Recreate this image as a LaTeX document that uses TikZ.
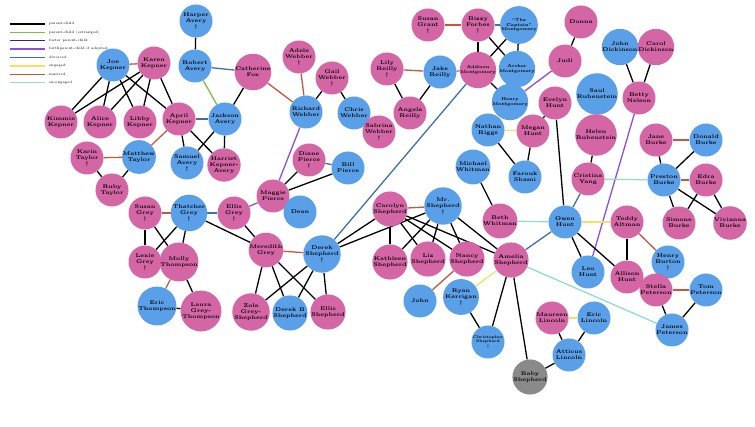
\documentclass[tikz,border=0pt]{standalone}
\usepackage[usenames,dvipsnames]{xcolor}
\usepackage{tikz}
\usetikzlibrary{arrows, backgrounds}

\definecolor{pinkp}{HTML}{D466A6}
\definecolor{bluep}{HTML}{5AA0E8}
\definecolor{grayp}{HTML}{8A8A8A}
\definecolor{estr}{HTML}{7BC043}
\definecolor{foster}{HTML}{3A1E8C}
\definecolor{birth}{HTML}{8A4FE0}
\definecolor{divor}{HTML}{3F6FA8}
\definecolor{engag}{HTML}{F5E060}
\definecolor{marri}{HTML}{C8553D}
\definecolor{exeng}{HTML}{8FDCD0}

\begin{document}
\begin{tikzpicture}[x = 1pt, y = -1pt,
    person/.style = {circle, minimum size = 33pt, inner sep = 0, align = center,
        font = \fontsize{5.4}{6}\selectfont\bfseries},
    f/.style = {person, fill = pinkp},
    m/.style = {person, fill = bluep},
    u/.style = {person, fill = grayp},
    tiny/.style = {font = \fontsize{4.2}{4.8}\selectfont\bfseries},
    pc/.style = {black, line width = 1.3pt},
    est/.style = {estr, line width = 1.3pt},
    fos/.style = {foster, line width = 1.3pt},
    bir/.style = {birth, line width = 1.3pt},
    div/.style = {divor, line width = 1.3pt},
    eng/.style = {engag, line width = 1.3pt},
    mar/.style = {marri, line width = 1.3pt},
    exe/.style = {exeng, line width = 1.3pt}]
    \useasboundingbox (0, 0) rectangle (755, 427);

    %% legend
    \foreach \s/\t [count = \i] in {pc/parent-child, est/parent-child (estranged),
        fos/foster parent-child, bir/birthparent-child if adopted, div/divorced,
        eng/engaged, mar/married, exe/ex-engaged}
        \draw[\s, line width = 1.5pt] (10, 15.5 + 8.4*\i) -- (45, 15.5 + 8.4*\i)
            node[right = 0, black, font = \fontsize{3.5}{4}\selectfont] {\t};

    %% Avery / Kepner / Taylor
    \node[m] (harper) at (196, 21) {Harper\\Avery\\\dag};
    \node[m] (robert) at (195, 66) {Robert\\Avery};
    \node[f] (catherine) at (253, 72) {Catherine\\Fox};
    \node[m] (joe) at (113, 65) {Joe\\Kepner};
    \node[f] (karen) at (154, 63) {Karen\\Kepner};
    \node[f] (kimmie) at (61, 122) {Kimmie\\Kepner};
    \node[f] (alice) at (100, 122) {Alice\\Kepner};
    \node[f] (libby) at (140, 122) {Libby\\Kepner};
    \node[f] (april) at (179, 119) {April\\Kepner};
    \node[m] (jackson) at (225, 119) {Jackson\\Avery};
    \node[f] (karin) at (87, 158) {Karin\\Taylor\\\dag};
    \node[m] (matthew) at (139, 157) {Matthew\\Taylor};
    \node[m] (samuel) at (187, 163) {Samuel\\Avery\\\dag};
    \node[f] (harriet) at (224, 165) {Harriet\\Kepner-\\Avery};
    \node[f] (ruby) at (112, 190) {Ruby\\Taylor};

    %% Webber / Pierce
    \node[f] (adele) at (299, 57) {Adele\\Webber\\\dag};
    \node[f] (gail) at (332, 78) {Gail\\Webber\\\dag};
    \node[m] (richard) at (306, 112) {Richard\\Webber};
    \node[m] (chris) at (354, 113) {Chris\\Webber};
    \node[f] (sabrina) at (379, 132) {Sabrina\\Webber\\\dag};
    \node[f] (diane) at (309, 160) {Diane\\Pierce\\\dag};
    \node[m] (bill) at (348, 168) {Bill\\Pierce};
    \node[f] (maggie) at (273, 196) {Maggie\\Pierce};
    \node[m] (dean) at (300, 212) {Dean};

    %% Grey / Thompson
    \node[f] (susan) at (145, 213) {Susan\\Grey\\\dag};
    \node[m] (thatcher) at (189, 213) {Thatcher\\Grey\\\dag};
    \node[f] (ellis) at (234, 213) {Ellis\\Grey\\\dag};
    \node[f] (lexie) at (145, 262) {Lexie\\Grey\\\dag};
    \node[f] (molly) at (179, 262) {Molly\\Thompson};
    \node[m] (eric) at (157, 306) {Eric\\Thompson};
    \node[f] (laura) at (201, 311) {Laura\\Grey-\\Thompson};
    \node[f] (meredith) at (266, 250) {Meredith\\Grey};
    \node[m] (derek) at (322, 254) {Derek\\Shepherd\\\dag};
    \node[f] (zola) at (251, 312) {Zola\\Grey-\\Shepherd};
    \node[m] (derekb) at (290, 313) {Derek B\\Shepherd};
    \node[f] (ellisS) at (328, 312) {Ellis\\Shepherd};

    %% Montgomery / Reilly
    \node[f] (susang) at (428, 25) {Susan\\Grant\\\dag};
    \node[f] (bizzy) at (478, 25) {Bizzy\\Forbes\\\dag};
    \node[m, tiny] (captain) at (519, 25) {``The\\Captain''\\Montgomery};
    \node[f] (lily) at (387, 69) {Lily\\Reilly\\\dag};
    \node[m] (jake) at (440, 72) {Jake\\Reilly};
    \node[f, tiny] (addison) at (478, 70) {Addison\\Montgomery};
    \node[m, tiny] (archer) at (517, 69) {Archer\\Montgomery};
    \node[f] (angela) at (410, 113) {Angela\\Reilly};
    \node[m, tiny] (henry) at (510, 102) {Henry\\Montgomery};
    \node[f] (judi) at (565, 61) {Judi};
    \node[f] (donna) at (581, 22) {Donna};

    %% Dickinson / Rubenstein / Hunt / Burke
    \node[m] (johnd) at (620, 47) {John\\Dickinson};
    \node[f] (carol) at (656, 47) {Carol\\Dickinson};
    \node[f] (betty) at (639, 98) {Betty\\Nelson};
    \node[m] (saul) at (597, 94) {Saul\\Rubenstein};
    \node[f] (helen) at (596, 135) {Helen\\Rubenstein};
    \node[f] (evelyn) at (555, 103) {Evelyn\\Hunt};
    \node[m] (nathan) at (488, 130) {Nathan\\Riggs};
    \node[f] (megan) at (533, 131) {Megan\\Hunt};
    \node[m] (farouk) at (525, 177) {Farouk\\Shami};
    \node[m] (michael) at (473, 167) {Michael\\Whitman};
    \node[f] (cristina) at (588, 179) {Cristina\\Yang};
    \node[f] (jane) at (656, 140) {Jane\\Burke};
    \node[m] (donald) at (706, 140) {Donald\\Burke};
    \node[m] (preston) at (664, 180) {Preston\\Burke};
    \node[f] (edra) at (706, 180) {Edra\\Burke};
    \node[f] (simone) at (679, 223) {Simone\\Burke};
    \node[f] (vivianna) at (730, 223) {Vivianna\\Burke};

    %% Shepherd / Hunt / Lincoln / Peterson
    \node[f] (carolyn) at (390, 209) {Carolyn\\Shepherd};
    \node[m] (mrshep) at (443, 206) {Mr.\\Shepherd\\\dag};
    \node[f] (beth) at (500, 221) {Beth\\Whitman};
    \node[m] (owen) at (565, 222) {Owen\\Hunt};
    \node[f] (teddy) at (627, 222) {Teddy\\Altman};
    \node[f] (kathleen) at (390, 262) {Kathleen\\Shepherd};
    \node[f] (liz) at (428, 259) {Liz\\Shepherd};
    \node[f] (nancy) at (467, 259) {Nancy\\Shepherd};
    \node[f] (amelia) at (511, 260) {Amelia\\Shepherd};
    \node[m] (leo) at (588, 272) {Leo\\Hunt};
    \node[f] (allison) at (627, 277) {Allison\\Hunt};
    \node[m] (burton) at (668, 262) {Henry\\Burton\\\dag};
    \node[f] (stella) at (656, 290) {Stella\\Peterson};
    \node[m] (tom) at (706, 290) {Tom\\Peterson};
    \node[m] (james) at (672, 330) {James\\Peterson};
    \node[m] (john) at (420, 301) {John};
    \node[m] (ryan) at (461, 297) {Ryan\\Kerrigan\\\dag};
    \node[m, font = \fontsize{3.8}{4.4}\selectfont\bfseries] (christopher) at (488, 342) {Christopher\\Shepherd\\\dag};
    \node[f] (maureen) at (552, 318) {Maureen\\Lincoln};
    \node[m] (ericl) at (594, 318) {Eric\\Lincoln};
    \node[m] (atticus) at (569, 355) {Atticus\\Lincoln};
    \node[u] (baby) at (530, 377) {Baby\\Shepherd};

    %% connectors
    \begin{scope}[on background layer]
    \foreach \a/\b/\s in {
        harper/robert/pc, robert/jackson/est, catherine/jackson/pc, robert/catherine/div,
        joe/karen/mar, joe/kimmie/pc, joe/alice/pc, joe/libby/pc, joe/april/pc,
        karen/kimmie/pc, karen/alice/pc, karen/libby/pc, karen/april/pc,
        april/jackson/div, april/matthew/mar, april/samuel/pc, april/harriet/pc,
        jackson/samuel/pc, jackson/harriet/pc, karin/matthew/mar, karin/ruby/pc,
        matthew/ruby/pc, catherine/richard/mar, adele/richard/mar, gail/richard/pc,
        gail/chris/pc, chris/sabrina/pc, richard/maggie/bir, diane/maggie/pc,
        bill/maggie/pc, diane/bill/div, maggie/dean/exe, ellis/maggie/bir,
        susan/thatcher/mar, thatcher/ellis/div, susan/lexie/pc, susan/molly/pc,
        thatcher/lexie/pc, thatcher/molly/pc, thatcher/meredith/pc, ellis/meredith/pc,
        molly/eric/mar, molly/laura/pc, eric/laura/pc, meredith/derek/mar,
        meredith/zola/pc, meredith/derekb/pc, meredith/ellisS/pc,
        derek/zola/pc, derek/derekb/pc, derek/ellisS/pc, derek/addison/div,
        carolyn/derek/pc, mrshep/derek/pc, carolyn/mrshep/mar,
        carolyn/kathleen/pc, carolyn/liz/pc, carolyn/nancy/pc, carolyn/amelia/pc,
        mrshep/kathleen/pc, mrshep/liz/pc, mrshep/nancy/pc, mrshep/amelia/pc,
        nancy/john/mar, amelia/ryan/eng, amelia/christopher/pc, ryan/christopher/pc,
        amelia/baby/pc, atticus/baby/pc, maureen/ericl/eng, maureen/atticus/pc,
        ericl/atticus/pc, amelia/owen/div, amelia/james/exe, stella/tom/mar,
        stella/james/pc, tom/james/pc, susang/bizzy/mar, bizzy/captain/div,
        bizzy/addison/pc, bizzy/archer/pc, captain/addison/pc, captain/archer/pc,
        lily/jake/mar, jake/addison/mar, lily/angela/pc, jake/angela/pc,
        addison/henry/pc, henry/judi/bir, donna/judi/pc, johnd/carol/mar,
        johnd/betty/pc, carol/betty/pc, betty/leo/bir, saul/helen/mar,
        helen/cristina/pc, evelyn/megan/pc, evelyn/owen/pc, nathan/megan/eng,
        nathan/farouk/pc, megan/farouk/pc, michael/beth/pc, beth/owen/exe,
        cristina/owen/div, cristina/preston/exe, jane/donald/mar, jane/preston/pc,
        donald/preston/pc, preston/edra/mar, preston/simone/pc, edra/simone/pc,
        preston/vivianna/pc, edra/vivianna/pc, owen/teddy/eng, owen/leo/pc,
        owen/allison/pc, teddy/allison/pc, teddy/burton/mar}
        \draw[\s] (\a) -- (\b);
    \end{scope}
\end{tikzpicture}
\end{document}
